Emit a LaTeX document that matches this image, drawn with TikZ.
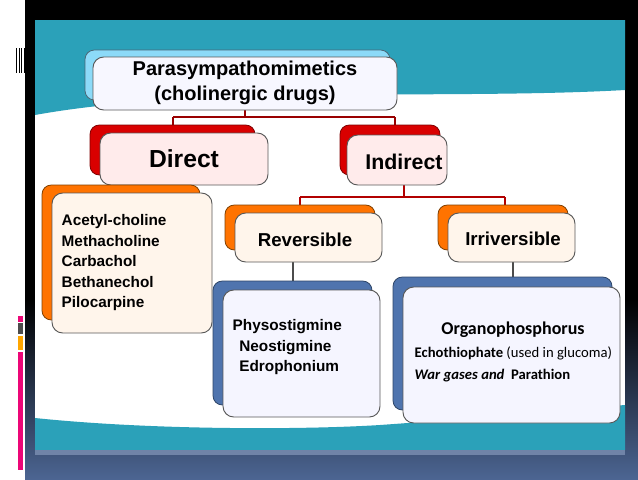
\documentclass[tikz,border=0pt]{standalone}
\usepackage{fontspec}
\setmainfont{Liberation Sans}
\newfontfamily\carlito{Carlito}
\begin{document}
\begin{tikzpicture}[x=0.75pt,y=-0.75pt,
  back/.style={rounded corners=7pt,line width=0.6pt},
  front/.style={rounded corners=8pt,draw=gray!70!black,line width=0.7pt},
  conn/.style={line width=0.9pt},
  txt/.style={font=\bfseries}]
\definecolor{teal1}{HTML}{2BA1B9}
\definecolor{strip}{HTML}{4C6592}
\definecolor{steel}{HTML}{4F74AE}
\useasboundingbox (0,0) rectangle (638,479);
\fill[white] (0,0) rectangle (638,479);
\fill[black] (25,0) rectangle (638,479);
\shade[top color=black,bottom color=strip] (25,300) rectangle (638,479);
% panel
\fill[white] (35,20) rectangle (625,455);
\fill[teal1] (35,20) -- (625,20) -- (625,90) .. controls (450,100) and (200,85) .. (35,115) -- cycle;
\fill[teal1] (35,418) .. controls (150,430) and (300,430) .. (380,425) .. controls (480,418) and (560,410) .. (625,405) -- (625,450) -- (35,450) -- cycle;
\fill[strip!80!white] (35,450) rectangle (625,455);
% left decorations
\foreach \xx in {16,18.5,21,23.5} \fill[black] (\xx,48) rectangle ++(1.2,25);
\fill[magenta!80!red] (18,316) rectangle (23,322);
\fill[gray!60!black] (18,323) rectangle (23,334);
\fill[orange!70!yellow] (18,336) rectangle (23,350);
\fill[magenta!80!red] (18,352) rectangle (23,470);
% connectors
\coordinate (t1) at (245,110); \coordinate (t2) at (245,117);
\draw[conn,red!60!black] (t1) -- (t2) (173,117) -- (395,117) (173,117) -- (173,125) (395,117) -- (395,125);
\draw[conn,red!70!black] (404,185) -- (404,197) (300,197) -- (505,197) (300,197) -- (300,205) (505,197) -- (505,205);
\draw[conn,gray!60!black] (293,262) -- (293,281);
\draw[conn,gray!60!black] (513,262) -- (513,278);
% title
\draw[back,fill=cyan!45!white,draw=cyan!40!black] (85,50) rectangle (390,100);
\draw[front,fill=blue!3!white] (93,57) rectangle (397,110);
\node[txt,font=\bfseries\fontsize{15}{19}\selectfont,align=center] (title) at (245,83) {Parasympathomimetics\\(cholinergic drugs)};
% Direct
\draw[back,fill=red!85!black,draw=red!50!black] (90,125) rectangle (255,175);
\draw[front,fill=red!8!white] (100,133) rectangle (268,185);
\node[font=\bfseries\fontsize{18.5}{21}\selectfont] (direct) at (184,159) {Direct};
% Indirect
\draw[back,fill=red!85!black,draw=red!50!black] (340,125) rectangle (440,175);
\draw[front,fill=red!8!white] (347,135) rectangle (447,185);
\node[font=\bfseries\fontsize{16}{19}\selectfont] (indirect) at (404,162) {Indirect};
% Direct list
\draw[back,fill=orange!90!red,draw=orange!50!black] (42,185) rectangle (200,320);
\draw[front,fill=orange!8!white] (52,193) rectangle (212,333);
\node[font=\bfseries\fontsize{11.5}{15.3}\selectfont,align=left,anchor=north west] (dlist) at (57,210) {Acetyl-choline\\Methacholine\\Carbachol\\Bethanechol\\Pilocarpine};
% Reversible
\draw[back,fill=orange!90!red,draw=orange!50!black] (225,205) rectangle (375,250);
\draw[front,fill=orange!8!white] (235,213) rectangle (382,262);
\node[font=\bfseries\fontsize{14}{16}\selectfont] (rev) at (305,240) {Reversible};
% Irriversible
\draw[back,fill=orange!90!red,draw=orange!50!black] (438,205) rectangle (568,250);
\draw[front,fill=orange!8!white] (448,213) rectangle (575,262);
\node[font=\bfseries\fontsize{14}{16}\selectfont] (irr) at (513,239) {Irriversible};
% Physo list
\draw[back,fill=steel,draw=steel!60!black] (213,281) rectangle (372,405);
\draw[front,fill=blue!4!white] (223,290) rectangle (380,417);
\node[font=\bfseries\fontsize{11.5}{15.3}\selectfont,align=left,anchor=north west] (plist) at (228,315) {Physostigmine\\\hspace*{5pt}Neostigmine\\\hspace*{5pt}Edrophonium};
% Organo
\draw[back,fill=steel,draw=steel!60!black] (393,277) rectangle (612,410);
\draw[front,fill=blue!4!white] (403,287) rectangle (620,423);
\node[font=\carlito\bfseries\fontsize{13.5}{16}\selectfont] (org) at (513,330) {Organophosphorus};
\node[font=\carlito\fontsize{11}{14}\selectfont,anchor=west] (echo) at (410,353) {\textbf{Echothiophate} (used in glucoma)};
\node[font=\carlito\fontsize{11}{14}\selectfont,anchor=west] (war) at (410,376) {\textbf{\itshape War gases and}\ \ \textbf{Parathion}};
\end{tikzpicture}
\end{document}
